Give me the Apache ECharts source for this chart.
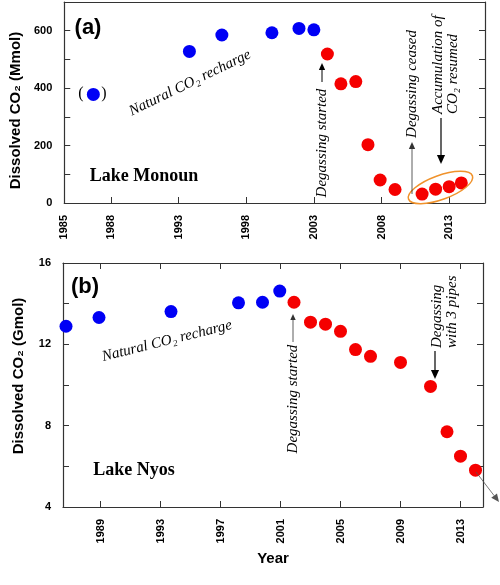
<!DOCTYPE html>
<html>
<head>
<meta charset="utf-8">
<script src="https://cdn.jsdelivr.net/npm/echarts@6/dist/echarts.min.js"></script>
<style>
  html, body { margin: 0; padding: 0; background: #fff; }
  #chart { width: 500px; height: 585px; }
</style>
</head>
<body>
<div id="chart"></div>
<script>
// Lake Monoun (Mmol)
var monounBlueYears = [1986.7, 1993.8, 1996.2, 1999.9, 2001.9, 2003.0];
var monounBlue = [378, 528, 585, 593, 608, 603];
var monounRedYears = [2004.0, 2005.0, 2006.1, 2007.0, 2007.9, 2009.0, 2011.0, 2012.0, 2013.0, 2013.9];
var monounRed = [519, 415, 423, 203, 80, 47, 31, 48, 57, 70];

// Lake Nyos (Gmol)
var nyosBlueYears = [1986.7, 1988.9, 1993.7, 1998.2, 1999.8, 2000.95];
var nyosBlue = [12.89, 13.32, 13.61, 14.04, 14.07, 14.62];
var nyosRedYears = [2001.9, 2003.0, 2004.0, 2005.0, 2006.0, 2007.0, 2009.0, 2011.0, 2012.1, 2013.0, 2014.0];
var nyosRed = [14.07, 13.09, 12.99, 12.64, 11.74, 11.41, 11.11, 9.93, 7.70, 6.50, 5.81];

// ticks / labels
var monounYearTicks = [1988, 1993, 1998, 2003, 2008, 2013];
var monounYearLabels = [1984.55, 1988, 1993, 1998, 2003, 2008, 2013]; // first one shown as 1985 at the axis start
var monounValueTicks = [100, 200, 300, 400, 500, 600];
var monounValueLabels = [0, 200, 400, 600];
var nyosYearTicks = [1989, 1993, 1997, 2001, 2005, 2009, 2013];
var nyosValueTicks = [6, 8, 10, 12, 14];
var nyosValueLabels = [4, 8, 12, 16];

var chart = echarts.init(document.getElementById("chart"));

var lineCol = "#333";
var tickLabel = { fontFamily: "Arial, Liberation Sans", fontWeight: "bold", fontSize: 11, color: "#000" };
var nameStyle = { fontFamily: "Arial, Liberation Sans", fontWeight: "bold", fontSize: 15, color: "#000" };
var ital = "italic 15px 'Liberation Serif', 'Times New Roman', serif";
var yearFmt = function (v) { return String(Math.round(v)); };

function zip(xs, ys) {
  return xs.map(function (x, i) { return [x, ys[i]]; });
}

function baseAxis(extra) {
  var ax = {
    type: "value",
    splitLine: { show: false },
    axisLine: { show: true, onZero: false, lineStyle: { color: lineCol, width: 1.2 } },
    axisTick: { show: false },
    axisLabel: { show: false },
  };
  return Object.assign(ax, extra);
}

function text(x, y, str, font, rot, align) {
  return {
    type: "text", x: x, y: y, rotation: rot || 0, z: 100,
    style: { text: str, font: font, fill: "#000", align: align || "center", verticalAlign: "middle" },
  };
}

// arrow from (x1,y1) to (x2,y2), head at the end
function arrow(x1, y1, x2, y2, col, w, head) {
  var a = Math.atan2(y2 - y1, x2 - x1);
  var hl = head || 7, hw = hl * 0.45;
  var bx = x2 - hl * Math.cos(a), by = y2 - hl * Math.sin(a);
  return [
    { type: "line", z: 100, shape: { x1: x1, y1: y1, x2: bx, y2: by }, style: { stroke: col, lineWidth: w } },
    {
      type: "polygon", z: 100,
      shape: { points: [[x2, y2], [bx + hw * Math.sin(a), by - hw * Math.cos(a)], [bx - hw * Math.sin(a), by + hw * Math.cos(a)]] },
      style: { fill: col },
    },
  ];
}

var graphics = [
  text(88, 28, "(a)", "bold 22px Arial, 'Liberation Sans'"),
  text(81, 94, "(", "16px 'Liberation Serif', serif"),
  text(104, 94, ")", "16px 'Liberation Serif', serif"),
  text(190, 83, "Natural CO₂ recharge", ital, 26 * Math.PI / 180),
  text(144, 176, "Lake Monoun", "bold 18px 'Liberation Serif', 'Times New Roman', serif"),
  text(322, 143, "Degassing started", ital, Math.PI / 2),
  text(412, 84, "Degassing ceased", ital, Math.PI / 2),
  text(446, 114, "Accumulation of\nCO₂ resumed", ital, Math.PI / 2, "left"),
  {
    type: "ellipse", x: 440.5, y: 187.5, rotation: 20 * Math.PI / 180, z: 100,
    shape: { cx: 0, cy: 0, rx: 34, ry: 12 },
    style: { fill: "none", stroke: "#f0922b", lineWidth: 1.5 },
  },

  text(85, 287, "(b)", "bold 22px Arial, 'Liberation Sans'"),
  text(167, 341, "Natural CO₂ recharge", ital, 14 * Math.PI / 180),
  text(134, 470, "Lake Nyos", "bold 18px 'Liberation Serif', 'Times New Roman', serif"),
  text(293, 399, "Degassing started", ital, Math.PI / 2),
  text(445, 348, "Degassing\nwith 3 pipes", ital, Math.PI / 2, "left"),
]
  .concat(arrow(322, 82, 322, 63, "#000", 1, 7))
  .concat(arrow(412, 194, 412, 142, "#333", 0.8, 7))
  .concat(arrow(441, 118, 441, 164, "#000", 1.2, 9))
  .concat(arrow(293, 342, 293, 314, "#333", 0.8, 6))
  .concat(arrow(435, 351, 435, 379, "#000", 1.2, 9))
  .concat(arrow(476, 472, 499, 502, "#555", 0.8, 8));

var option = {
  backgroundColor: "#fff",
  animation: false,
  grid: [
    { left: 63, top: 2, width: 422, height: 201 },
    { left: 63, top: 263, width: 420, height: 244 },
  ],
  xAxis: [
    baseAxis({
      gridIndex: 0, position: "bottom", min: 1984.55, max: 2015.65,
      axisTick: { show: true, inside: true, length: 6, customValues: monounYearTicks, lineStyle: { color: lineCol } },
      axisLabel: { show: true, rotate: 90, margin: 12, customValues: monounYearLabels, formatter: yearFmt, ...tickLabel },
    }),
    baseAxis({ gridIndex: 0, position: "top", min: 1984.55, max: 2015.65 }),
    baseAxis({
      gridIndex: 1, position: "bottom", min: 1986.5, max: 2014.5,
      name: "Year", nameLocation: "middle", nameGap: 44, nameTextStyle: nameStyle,
      axisTick: { show: true, inside: true, length: 6, customValues: nyosYearTicks, lineStyle: { color: lineCol } },
      axisLabel: { show: true, rotate: 90, margin: 12, customValues: nyosYearTicks, formatter: yearFmt, ...tickLabel },
    }),
    baseAxis({
      gridIndex: 1, position: "top", min: 1986.5, max: 2014.5,
      axisTick: { show: true, inside: true, length: 6, customValues: nyosYearTicks, lineStyle: { color: lineCol } },
    }),
  ],
  yAxis: [
    baseAxis({
      gridIndex: 0, position: "left", min: 0, max: 700,
      name: "Dissolved CO₂ (Mmol)", nameLocation: "middle", nameGap: 37,
      nameTextStyle: Object.assign({}, nameStyle, { padding: [0, 16, 0, 0] }),
      axisTick: { show: true, inside: true, length: 6, customValues: monounValueTicks, lineStyle: { color: lineCol } },
      axisLabel: { show: true, margin: 12, customValues: monounValueLabels, ...tickLabel },
    }),
    baseAxis({
      gridIndex: 0, position: "right", min: 0, max: 700,
      axisTick: { show: true, inside: true, length: 6, customValues: monounValueTicks, lineStyle: { color: lineCol } },
    }),
    baseAxis({
      gridIndex: 1, position: "left", min: 4, max: 16,
      name: "Dissolved CO₂ (Gmol)", nameLocation: "middle", nameGap: 37,
      nameTextStyle: Object.assign({}, nameStyle, { padding: [0, 0, 0, 18] }),
      axisTick: { show: true, inside: true, length: 6, customValues: nyosValueTicks, lineStyle: { color: lineCol } },
      axisLabel: { show: true, margin: 12, customValues: nyosValueLabels, ...tickLabel },
    }),
    baseAxis({
      gridIndex: 1, position: "right", min: 4, max: 16,
      axisTick: { show: true, inside: true, length: 6, customValues: nyosValueTicks, lineStyle: { color: lineCol } },
    }),
  ],
  series: [
    { type: "scatter", xAxisIndex: 0, yAxisIndex: 0, symbolSize: 13, itemStyle: { color: "#0000f5", opacity: 1 }, data: zip(monounBlueYears, monounBlue) },
    { type: "scatter", xAxisIndex: 0, yAxisIndex: 0, symbolSize: 13, itemStyle: { color: "#f50000", opacity: 1 }, data: zip(monounRedYears, monounRed) },
    { type: "scatter", xAxisIndex: 2, yAxisIndex: 2, symbolSize: 13, itemStyle: { color: "#0000f5", opacity: 1 }, data: zip(nyosBlueYears, nyosBlue) },
    { type: "scatter", xAxisIndex: 2, yAxisIndex: 2, symbolSize: 13, itemStyle: { color: "#f50000", opacity: 1 }, data: zip(nyosRedYears, nyosRed) },
  ],
  graphic: graphics,
};

option && chart.setOption(option);
</script>
</body>
</html>
